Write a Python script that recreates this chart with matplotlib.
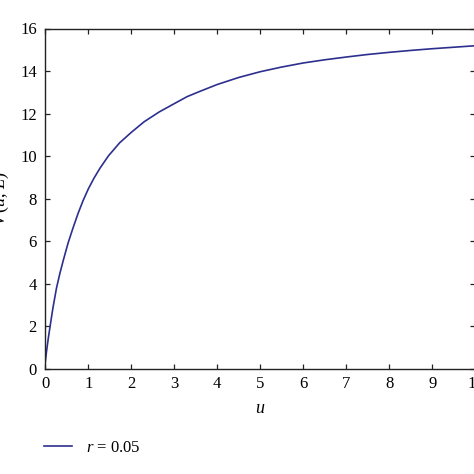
import matplotlib
matplotlib.use("Agg")
import matplotlib.pyplot as plt

plt.rcParams['font.family'] = ['Liberation Serif', 'DejaVu Serif']
plt.rcParams['mathtext.fontset'] = 'custom'
plt.rcParams['mathtext.rm'] = 'Liberation Serif'
plt.rcParams['mathtext.it'] = 'Liberation Serif:italic'

# values
u = [0.0, 0.03, 0.07, 0.12, 0.18, 0.26, 0.34, 0.42, 0.53, 0.64, 0.76,
     0.88, 1.0, 1.13, 1.27, 1.47, 1.73, 2.0, 2.3, 2.65, 3.0, 3.3, 3.6,
     4.0, 4.5, 5.0, 5.5, 6.0, 6.5, 7.0, 7.5, 8.0, 8.5, 9.0, 9.5, 10.0]
V = [0.34, 0.85, 1.45, 2.12, 2.9, 3.8, 4.5, 5.12, 5.92, 6.6, 7.3,
     7.92, 8.46, 8.96, 9.43, 10.02, 10.63, 11.12, 11.62, 12.08, 12.47,
     12.8, 13.05, 13.37, 13.7, 13.97, 14.19, 14.38, 14.53, 14.66, 14.78,
     14.88, 14.97, 15.05, 15.12, 15.19]
xticks = list(range(0, 11))
yticks = list(range(0, 17, 2))
series_label = r'$r$ = 0.05'

fig = plt.figure(figsize=(4.74, 4.74), dpi=100)
ax = fig.add_axes([45.3 / 474, 1 - 369 / 474, 430 / 474, (369 - 28.5) / 474])

ax.plot(u, V, color='#2d2f8e', linewidth=1.2, label=series_label)

ax.set_xlim(0, 10)
ax.set_ylim(0, 16)
ax.set_xticks(xticks)
ax.set_yticks(yticks)
ax.tick_params(direction='in', top=True, right=True, length=3.5, width=0.9,
               labelsize=12, color='#222222')
ax.tick_params(axis='x', pad=5)
ax.tick_params(axis='y', pad=6)
for s in ax.spines.values():
    s.set_linewidth(1.0)
    s.set_color('#222222')

ax.set_xlabel(r'$u$', fontsize=13, labelpad=6)
ax.set_ylabel(r'$V\,(u,\,L)$', fontsize=13)
ax.yaxis.set_label_coords(-0.079, 0.5)

ax.legend(loc='upper left', bbox_to_anchor=(-0.003, -0.209), frameon=False,
          fontsize=12, handlelength=1.7, handletextpad=0.8,
          borderaxespad=0, borderpad=0)

fig.savefig('out.png', dpi=100)
